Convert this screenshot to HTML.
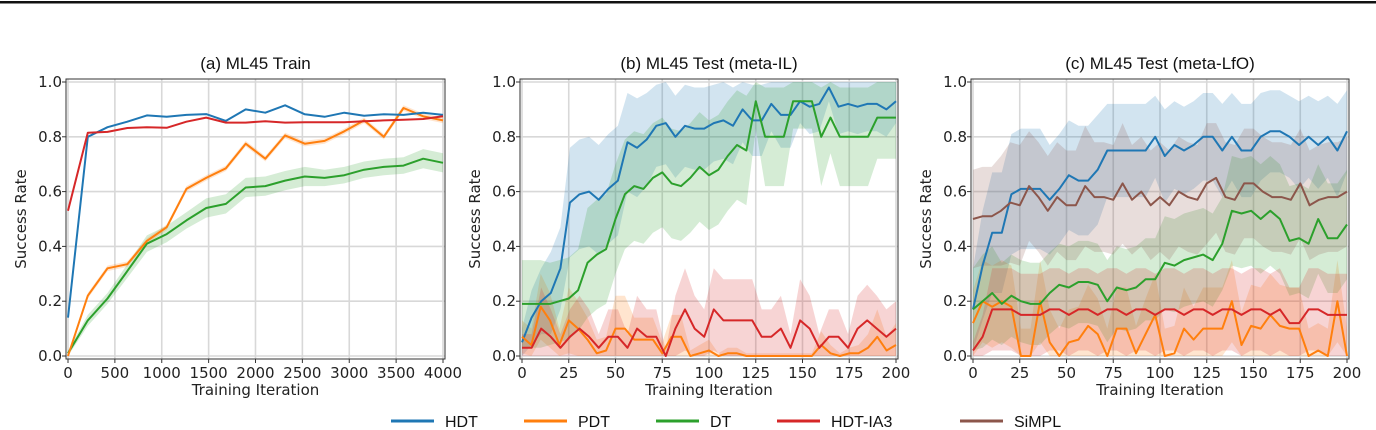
<!DOCTYPE html>
<html><head><meta charset="utf-8"><style>
body{margin:0;background:#fff;}
svg{display:block;font-family:"DejaVu Sans","Liberation Sans",sans-serif;}
</style></head><body>
<svg id="fig" width="1376" height="430" viewBox="0 0 1376 430">
<rect x="0" y="1" width="1376" height="2.5" fill="#111"/>
</svg>
<script>
const aX = [0,211,421,632,842,1053,1263,1474,1684,1895,2105,2316,2526,2737,2947,3158,3368,3579,3789,4000];
const aHDT = [0.14,0.80,0.835,0.855,0.878,0.873,0.88,0.883,0.858,0.9,0.888,0.915,0.882,0.873,0.888,0.877,0.882,0.88,0.888,0.88];
const aIA3 = [0.53,0.815,0.818,0.832,0.835,0.833,0.855,0.87,0.852,0.852,0.857,0.852,0.853,0.853,0.853,0.857,0.86,0.862,0.865,0.875];
const aPDT = [0,0.22,0.32,0.335,0.42,0.47,0.61,0.65,0.685,0.775,0.72,0.805,0.775,0.785,0.82,0.86,0.80,0.905,0.875,0.86];
const aDT = [0.01,0.13,0.21,0.31,0.41,0.445,0.495,0.54,0.555,0.615,0.62,0.64,0.655,0.65,0.66,0.68,0.69,0.695,0.72,0.705];
const aDTspread = [0.01,0.02,0.02,0.025,0.03,0.03,0.03,0.035,0.035,0.035,0.035,0.035,0.035,0.03,0.03,0.03,0.03,0.03,0.035,0.035];
const aPDTspread = [0.005,0.01,0.01,0.01,0.01,0.01,0.01,0.01,0.01,0.01,0.01,0.01,0.01,0.01,0.01,0.01,0.01,0.01,0.01,0.01];

const bHDT = [0.05,0.14,0.2,0.23,0.32,0.56,0.59,0.6,0.57,0.61,0.64,0.78,0.76,0.79,0.84,0.85,0.8,0.84,0.83,0.83,0.85,0.86,0.84,0.9,0.86,0.86,0.92,0.88,0.88,0.93,0.91,0.92,0.98,0.91,0.92,0.91,0.92,0.92,0.9,0.93];
const bHDTspread = [0.05,0.1,0.12,0.15,0.15,0.2,0.2,0.2,0.2,0.2,0.2,0.18,0.18,0.17,0.15,0.15,0.15,0.15,0.15,0.15,0.14,0.14,0.14,0.12,0.13,0.13,0.1,0.12,0.12,0.08,0.1,0.1,0.05,0.1,0.1,0.1,0.1,0.1,0.1,0.08];
const bDT = [0.19,0.19,0.19,0.19,0.2,0.21,0.24,0.34,0.37,0.39,0.5,0.59,0.62,0.61,0.65,0.67,0.63,0.62,0.65,0.69,0.66,0.68,0.73,0.77,0.75,0.93,0.8,0.8,0.8,0.93,0.93,0.93,0.8,0.87,0.8,0.8,0.8,0.8,0.87,0.87,0.87];
const bDTspread = [0.16,0.16,0.16,0.15,0.15,0.15,0.15,0.2,0.2,0.2,0.2,0.2,0.2,0.2,0.2,0.2,0.2,0.2,0.2,0.2,0.2,0.2,0.2,0.2,0.2,0.1,0.18,0.18,0.18,0.1,0.1,0.1,0.18,0.13,0.18,0.18,0.18,0.18,0.15,0.15,0.15];
const bPDT = [0.07,0.04,0.18,0.13,0.04,0.13,0.1,0.06,0.01,0.02,0.1,0.1,0.06,0.06,0.06,0.01,0.07,0.07,0,0.01,0.02,0,0.01,0.01,0,0,0,0,0,0,0,0,0.04,0.01,0,0.01,0.01,0.03,0.07,0.02,0.04];
const bPDTspread = [0.06,0.06,0.12,0.1,0.06,0.12,0.1,0.08,0.05,0.05,0.12,0.12,0.08,0.08,0.08,0.04,0.08,0.08,0.02,0.03,0.04,0.01,0.02,0.02,0.01,0.01,0.01,0.01,0.01,0.01,0.01,0.01,0.05,0.03,0.01,0.02,0.03,0.05,0.1,0.05,0.08];
const bIA3 = [0.03,0.03,0.1,0.07,0.03,0.07,0.1,0.07,0.03,0.07,0.07,0.03,0.1,0.07,0.07,0,0.1,0.17,0.1,0.07,0.17,0.13,0.13,0.13,0.13,0.07,0.07,0.1,0.03,0.13,0.1,0.03,0.07,0.07,0.03,0.1,0.13,0.1,0.07,0.1];
const bIA3spread = [0.05,0.05,0.15,0.1,0.05,0.1,0.12,0.1,0.05,0.1,0.1,0.05,0.12,0.1,0.1,0.02,0.12,0.15,0.12,0.1,0.15,0.15,0.15,0.15,0.15,0.1,0.1,0.12,0.05,0.15,0.12,0.05,0.1,0.1,0.05,0.12,0.13,0.12,0.1,0.1];

const cHDT = [0.17,0.33,0.45,0.45,0.59,0.61,0.61,0.61,0.57,0.61,0.66,0.64,0.64,0.68,0.75,0.75,0.75,0.75,0.75,0.8,0.73,0.77,0.75,0.77,0.8,0.8,0.75,0.8,0.75,0.75,0.8,0.82,0.82,0.8,0.77,0.8,0.77,0.8,0.75,0.82];
const cHDTspread = [0.15,0.2,0.22,0.22,0.22,0.22,0.22,0.22,0.2,0.2,0.2,0.2,0.2,0.2,0.17,0.17,0.17,0.17,0.17,0.15,0.17,0.16,0.16,0.16,0.16,0.16,0.17,0.16,0.17,0.17,0.16,0.15,0.15,0.15,0.16,0.15,0.16,0.15,0.17,0.15];
const cSiMPL = [0.5,0.51,0.51,0.53,0.56,0.55,0.62,0.58,0.53,0.58,0.55,0.55,0.62,0.58,0.58,0.57,0.63,0.57,0.6,0.55,0.58,0.55,0.6,0.58,0.57,0.63,0.65,0.58,0.57,0.63,0.63,0.6,0.58,0.58,0.57,0.63,0.55,0.57,0.58,0.58,0.6];
const cSiMPLspread = [0.18,0.18,0.18,0.2,0.22,0.22,0.2,0.2,0.2,0.2,0.2,0.2,0.22,0.2,0.2,0.2,0.22,0.2,0.2,0.2,0.2,0.2,0.2,0.2,0.2,0.22,0.2,0.2,0.2,0.2,0.2,0.2,0.2,0.2,0.2,0.2,0.2,0.2,0.2,0.2,0.2];
const cDT = [0.17,0.2,0.23,0.19,0.22,0.2,0.19,0.19,0.23,0.26,0.25,0.27,0.27,0.26,0.2,0.25,0.24,0.25,0.28,0.28,0.34,0.33,0.35,0.36,0.37,0.35,0.41,0.53,0.52,0.53,0.5,0.53,0.5,0.42,0.43,0.41,0.5,0.43,0.43,0.48];
const cDTspread = [0.15,0.17,0.17,0.15,0.15,0.15,0.15,0.15,0.15,0.15,0.15,0.15,0.15,0.15,0.15,0.15,0.15,0.15,0.15,0.15,0.17,0.17,0.17,0.17,0.17,0.17,0.17,0.2,0.2,0.2,0.2,0.2,0.2,0.2,0.2,0.2,0.2,0.2,0.2,0.2];
const cIA3 = [0.02,0.07,0.17,0.17,0.17,0.15,0.15,0.15,0.17,0.17,0.15,0.17,0.17,0.15,0.17,0.17,0.15,0.17,0.17,0.15,0.17,0.17,0.15,0.17,0.17,0.15,0.17,0.17,0.15,0.17,0.17,0.15,0.17,0.12,0.12,0.17,0.17,0.15,0.15,0.15];
const cIA3spread = [0.03,0.08,0.15,0.15,0.15,0.15,0.15,0.15,0.15,0.15,0.15,0.15,0.15,0.15,0.15,0.15,0.15,0.15,0.15,0.15,0.15,0.15,0.15,0.15,0.15,0.15,0.15,0.15,0.15,0.15,0.15,0.15,0.15,0.13,0.13,0.15,0.15,0.15,0.15,0.15];
const cPDT = [0.12,0.2,0.18,0.2,0.18,0,0,0.2,0.05,0,0.05,0.06,0.11,0.08,0,0.1,0.1,0.01,0.08,0.15,0,0.01,0.1,0.06,0.1,0.1,0.1,0.2,0.04,0.11,0.1,0.15,0.11,0.1,0.1,0,0.02,0,0.2,0];
const cPDTspread = [0.12,0.15,0.15,0.15,0.15,0.1,0.1,0.15,0.12,0.1,0.12,0.12,0.15,0.13,0.1,0.15,0.15,0.1,0.13,0.15,0.1,0.1,0.15,0.12,0.15,0.15,0.15,0.15,0.12,0.15,0.15,0.15,0.15,0.15,0.15,0.1,0.1,0.1,0.15,0.1];

const yTicks = [0,0.2,0.4,0.6,0.8,1.0];
const aXTicks = [0,500,1000,1500,2000,2500,3000,3500,4000];
const bXTicks = [0,25,50,75,100,125,150,175,200];

const C = {HDT:'#1f77b4',PDT:'#ff7f0e',DT:'#2ca02c',IA3:'#d62728',SiMPL:'#8c564b'};
const NS = 'http://www.w3.org/2000/svg';
const svg = document.getElementById('fig');
function mk(tag, attrs, parent){const e=document.createElementNS(NS,tag);for(const k in attrs)e.setAttribute(k,attrs[k]);(parent||svg).appendChild(e);return e;}

function panel(id, title, left, right, xmax, xticks, series){
  const top=82, bot=356;
  const g = mk('g',{});
  
  
  const sx = v => left + v/xmax*(right-left);
  const sy = v => bot - v*(bot-top);
  const pad=2;
  mk('rect',{x:left-pad,y:top-3,width:right-left+pad*2,height:bot-top+6,fill:'#fff'},g);
  const grid = mk('g',{},g);
  
  
  yTicks.forEach(t=>{
    mk('line',{x1:left-pad,x2:right+pad,y1:sy(t),y2:sy(t),stroke:'#d8d8d8','stroke-width':1.6},grid);
    const tx = mk('text',{x:left-6,y:sy(t)+5,'text-anchor':'end','font-size':15,fill:'#222'},g);
    tx.textContent=t.toFixed(1);
    
    
    mk('line',{x1:left-pad-4,x2:left-pad,y1:sy(t),y2:sy(t),stroke:'#333'},g);
  });
  xticks.forEach(t=>{
    mk('line',{x1:sx(t),x2:sx(t),y1:top-3,y2:bot+3,stroke:'#d8d8d8','stroke-width':1.6},grid);
    const tx = mk('text',{x:sx(t),y:bot+22,'text-anchor':'middle','font-size':15,fill:'#222'},g);
    tx.textContent=t;
    
    
    mk('line',{x1:sx(t),x2:sx(t),y1:bot+3,y2:bot+7,stroke:'#333'},g);
  });
  series.forEach(s=>{
    const n=s.y.length;
    const xs = s.x || s.y.map((_,i)=>i*xmax/(n-1));
    if(s.sp){
      let d='';
      for(let i=0;i<n;i++) d+=(i?'L':'M')+sx(xs[i]).toFixed(1)+','+sy(Math.min(1,s.y[i]+s.sp[i])).toFixed(1);
      for(let i=n-1;i>=0;i--) d+='L'+sx(xs[i]).toFixed(1)+','+sy(Math.max(0,s.y[i]-s.sp[i])).toFixed(1);
      const b=mk('path',{d:d+'Z',fill:s.c,'fill-opacity':0.2,stroke:'none'},g);
      
      
    }
  });
  series.forEach(s=>{
    const n=s.y.length;
    const xs = s.x || s.y.map((_,i)=>i*xmax/(n-1));
    const pts = s.y.map((v,i)=>sx(xs[i]).toFixed(1)+','+sy(v).toFixed(1)).join(' ');
    const l=mk('polyline',{points:pts,fill:'none',stroke:s.c,'stroke-width':2,'stroke-linejoin':'round'},g);
    
    
  });
  const fr=mk('rect',{x:left-pad,y:top-3,width:right-left+pad*2,height:bot-top+6,fill:'none',stroke:'#333','stroke-width':1},g);
  
  
  const t=mk('text',{x:(left+right)/2,y:69,'text-anchor':'middle','font-size':17,fill:'#111','font-family':'Liberation Sans, sans-serif'},g);
  t.textContent=title;
  
  
  const xl=mk('text',{x:(left+right)/2,y:395,'text-anchor':'middle','font-size':15,fill:'#222'},g);
  xl.textContent='Training Iteration';
  
  
  const yl=mk('text',{x:0,y:0,'text-anchor':'middle','font-size':15,fill:'#222',transform:`translate(${left-42},${(top+bot)/2}) rotate(-90)`},g);
  yl.textContent='Success Rate';
  
  
}

panel('panel-a','(a) ML45 Train',68,443,4000,aXTicks,[
  {n:'dt',c:C.DT,x:aX,y:aDT,sp:aDTspread},
  {n:'pdt',c:C.PDT,x:aX,y:aPDT,sp:aPDTspread},
  {n:'hdt',c:C.HDT,x:aX,y:aHDT},
  {n:'hdt-ia3',c:C.IA3,x:aX,y:aIA3}
]);
panel('panel-b','(b) ML45 Test (meta-IL)',522,896,200,bXTicks,[
  {n:'hdt',c:C.HDT,y:bHDT,sp:bHDTspread},
  {n:'pdt',c:C.PDT,y:bPDT,sp:bPDTspread},
  {n:'dt',c:C.DT,y:bDT,sp:bDTspread},
  {n:'hdt-ia3',c:C.IA3,y:bIA3,sp:bIA3spread}
]);
panel('panel-c','(c) ML45 Test (meta-LfO)',973,1347,200,bXTicks,[
  {n:'hdt',c:C.HDT,y:cHDT,sp:cHDTspread},
  {n:'pdt',c:C.PDT,y:cPDT,sp:cPDTspread},
  {n:'dt',c:C.DT,y:cDT,sp:cDTspread},
  {n:'hdt-ia3',c:C.IA3,y:cIA3,sp:cIA3spread},
  {n:'simpl',c:C.SiMPL,y:cSiMPL,sp:cSiMPLspread}
]);

const legNames=['HDT','PDT','DT','HDT-IA3','SiMPL'];
const legColors=[C.HDT,C.PDT,C.DT,C.IA3,C.SiMPL];
const legX=[391,524,656,777,960];
const lg=mk('g',{});


legNames.forEach((nm,i)=>{
  const e=mk('g',{},lg);
  
  
  mk('line',{x1:legX[i],x2:legX[i]+43,y1:421,y2:421,stroke:legColors[i],'stroke-width':3},e);
  const t=mk('text',{x:legX[i]+54,y:427,'font-size':16,fill:'#111','font-family':'Liberation Sans, sans-serif'},e);
  t.textContent=nm;
});
</script>
</body></html>
